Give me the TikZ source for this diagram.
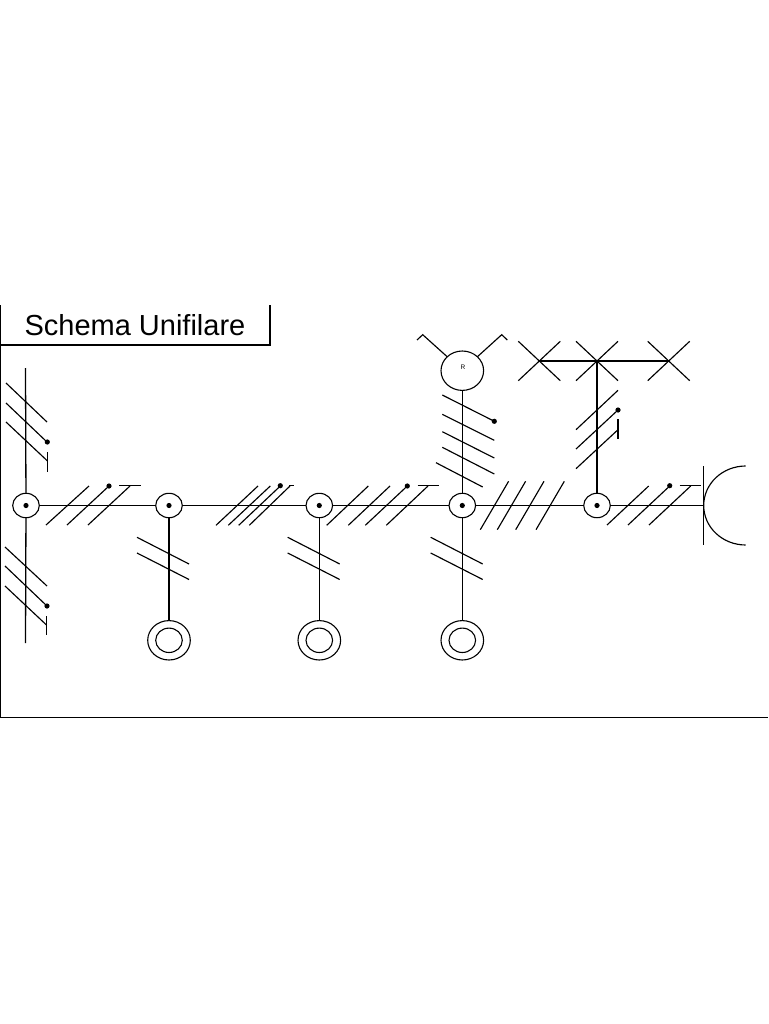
\documentclass[tikz,border=0pt]{standalone}
\usepackage{fontspec}
\setmainfont{Liberation Sans}
\usetikzlibrary{shapes.geometric}
\tikzset{
  bus/.style={draw, ellipse, inner sep=0pt, outer sep=0pt, minimum width=26.6pt, minimum height=24.4pt, line width=1.1pt},
  motor/.style={draw, ellipse, inner sep=0pt, outer sep=0pt, minimum width=42.6pt, minimum height=39.4pt, line width=1.1pt},
  rotor/.style={draw, ellipse, inner sep=0pt, outer sep=0pt, minimum width=26.6pt, minimum height=24.4pt, line width=1.1pt},
  wire/.style={line width=1.3pt},
  tick/.style={line width=1.15pt}
}
\begin{document}
\begin{tikzpicture}[x=1pt, y=-1pt]
\useasboundingbox (0,0) rectangle (768,1024);
% frame
\draw[line width=1.2pt] (0.5,305) -- (0.5,717.3);
\draw[line width=1.6pt] (0,717.3) -- (768,717.3);
\draw[line width=1.2pt] (0,345) -- (270,345) -- (270,305);
\node[font=\fontsize{29}{32}\selectfont, inner sep=0pt] (title) at (135,325.5) {Schema Unifilare};
% buses
\node[bus] (busa) at (26,505.5) {};
\node[bus] (busb) at (169,505.5) {};
\node[bus] (busc) at (319.3,505.5) {};
\node[bus] (busd) at (462.3,505.5) {};
\node[bus] (buse) at (597,505.5) {};
\foreach \n in {busa,busb,busc,busd,buse}
  \fill (\n) circle (2.6);
% generators
\node[motor] (motb) at (169,640.3) {};
\node[motor] (motc) at (319.3,640.3) {};
\node[motor] (motd) at (462.3,640.3) {};
\node[rotor] (rotb) at (motb) {};
\node[rotor] (rotc) at (motc) {};
\node[rotor] (rotd) at (motd) {};
\node[motor] (relay) at (462.3,370.7) {};
\node[font=\fontsize{6.5}{7}\selectfont, inner sep=0pt] (relaytext) at (463,367.7) {R};
% main lines
\coordinate (topa) at (25.5,368);
\coordinate (bota) at (25.5,643);
\coordinate (endbar) at (703.7,505.5);
\coordinate (crossa) at (539.3,361);
\coordinate (crossb) at (597,361);
\coordinate (crossc) at (668.7,361);
\draw[wire] (topa) -- (busa);
\draw[wire] (busa) -- (bota);
\draw[wire] (busa) -- (busb);
\draw[wire] (busb) -- (busc);
\draw[wire] (busc) -- (busd);
\draw[wire] (busd) -- (buse);
\draw[wire] (buse) -- (endbar);
\draw[wire] (busb) -- (motb);
\draw[wire] (busc) -- (motc);
\draw[wire] (busd) -- (motd);
\draw[wire] (busd) -- (relay);
\draw[wire] (buse) -- (crossb);
\draw[line width=1.6pt] (crossa) -- (crossc);
% crosses
\foreach \n in {crossa,crossb,crossc} {
  \draw[tick] ([shift={(-21,19.7)}]\n) -- ([shift={(21,-19.7)}]\n);
  \draw[tick] ([shift={(-21,-19.7)}]\n) -- ([shift={(21,19.7)}]\n);
}
% end of line
\draw[wire] (703.7,466) -- (703.7,545);
\draw[tick] (745.7,466) arc[start angle=270, end angle=90, x radius=42, y radius=39.5];
% antenna
\draw[tick] (relay.north west) -- (422.7,334.7) -- (417,340);
\draw[tick] (relay.north east) -- (501.7,334.7) -- (507.3,340);
% strokes on the left branch
\draw[tick] (6,383) -- (47,422);
\draw[tick] (6,403) -- (47,442);
\draw[tick] (6,422) -- (47.5,461);
\draw[tick] (47.5,452) -- (47.5,472);
\fill (47.3,442) circle (2.6);
\draw[tick] (5,547) -- (47,586);
\draw[tick] (5,566) -- (47,606);
\draw[tick] (5,586) -- (46.5,625);
\draw[tick] (46.5,616) -- (46.5,635);
\fill (47,606) circle (2.6);
% strokes on the bus
\draw[tick] (46,525) -- (89,486);
\draw[tick] (67,525) -- (109,486);
\draw[tick] (88,525) -- (130,486);
\draw[tick] (119,485.3) -- (141,485.3);
\fill (109,486) circle (2.6);
\draw[tick] (216,525.3) -- (258,486);
\draw[tick] (228.3,525.3) -- (270.3,486);
\draw[tick] (238.7,525.3) -- (280.3,486);
\draw[tick] (249.3,525.3) -- (290,486);
\draw[tick] (289,485.3) -- (293.7,485.3);
\fill (280.3,485.7) circle (2.6);
\draw[tick] (326.7,525.3) -- (368.3,486);
\draw[tick] (348.3,525.3) -- (390,486);
\draw[tick] (365.3,525.3) -- (407.3,486);
\draw[tick] (386.3,525.3) -- (428,486);
\draw[tick] (417.7,485.3) -- (438.7,485.3);
\fill (407.3,486) circle (2.6);
\foreach \x in {480.3,497.3,515.7,536}
  \draw[tick] (\x,529.7) -- (\x+28.3,481.3);
\draw[tick] (607,525) -- (648.7,486);
\draw[tick] (628,525) -- (669.7,486);
\draw[tick] (649,525) -- (690.7,486);
\draw[tick] (679.7,485.3) -- (701,485.3);
\fill (669.7,485.7) circle (2.6);
% strokes on the generator branches
\foreach \x in {137,287.7,430.7} {
  \draw[tick] (\x,537.3) -- (\x+52,564);
  \draw[tick] (\x,553) -- (\x+52,579.5);
}
% strokes under the relay
\draw[tick] (442.3,395) -- (494.3,421.3);
\draw[tick] (442.3,414.3) -- (494.3,440.3);
\draw[tick] (442.3,431.7) -- (494.3,458);
\draw[tick] (442.3,447.3) -- (494.3,474);
\draw[tick] (436,462.7) -- (482.7,487);
\fill (494.3,421.3) circle (2.6);
% strokes under the crossing
\draw[tick] (576,429.7) -- (618,390.3);
\draw[tick] (576,449) -- (618,410);
\draw[tick] (576,468.7) -- (618,429.7);
\draw[tick] (618,419.3) -- (618,439.3);
\fill (618,410) circle (2.6);
\end{tikzpicture}
\end{document}
